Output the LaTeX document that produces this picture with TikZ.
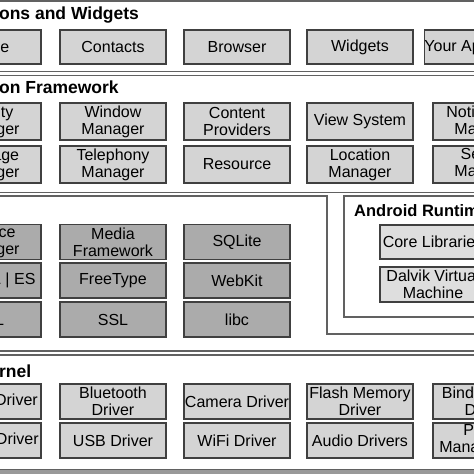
\documentclass[tikz,border=0pt]{standalone}
\usepackage{fontspec}
\setmainfont{Liberation Sans}
\begin{document}
\begin{tikzpicture}[x=1pt,y=-1pt,
    blk/.style={draw=black!75,line width=1.2pt,fill=black!17,minimum width=106pt,minimum height=35pt,inner sep=0pt,align=center,font=\fontsize{16}{17}\selectfont},
    libblk/.style={blk,fill=black!33},
    layer/.style={draw=black!62,line width=1.4pt},
    ltitle/.style={anchor=west,inner sep=0pt,font=\fontsize{17.5}{19}\bfseries\selectfont}]
    \useasboundingbox (0,0) rectangle (474,474);
    \clip (0,0) rectangle (474,474);
    % applications
    \draw[layer] (-80,1) rectangle (552,71.5);
    \node[ltitle] (tapp) at (-75,15) {Applications and Widgets};
    \node[blk,minimum height=34pt] (home) at (-12,47) {Home};
    \node[blk,minimum height=34pt] (contacts) at (113,47) {Contacts};
    \node[blk,minimum height=34pt] (browser) at (237,47) {Browser};
    \node[blk,minimum height=34pt] (widgets) at (360,47) {Widgets};
    \node[blk,minimum height=34pt] (yourapps) at (486,47) {Your Applications};
    % framework
    \draw[layer] (-80,75.5) rectangle (552,192.5);
    \node[ltitle] (tfw) at (-75,89) {Application Framework};
    \node[blk,minimum height=37pt] (actmgr) at (-12,121.5) {Activity\\Manager};
    \node[blk,minimum height=37pt] (winmgr) at (113,121.5) {Window\\Manager};
    \node[blk,minimum height=37pt] (contprov) at (237,121.5) {Content\\Providers};
    \node[blk,minimum height=37pt] (viewsys) at (360,121.5) {View System};
    \node[blk,minimum height=37pt] (notifmgr) at (486,121.5) {Notification\\Manager};
    \node[blk,minimum height=37pt] (pkgmgr) at (-12,164.5) {Package\\Manager};
    \node[blk,minimum height=37pt] (telmgr) at (113,164.5) {Telephony\\Manager};
    \node[blk,minimum height=37pt] (resource) at (237,164.5) {Resource};
    \node[blk,minimum height=37pt] (locmgr) at (360,164.5) {Location\\Manager};
    \node[blk,minimum height=37pt] (sensmgr) at (486,164.5) {Sensor\\Manager};
    % libraries
    \draw[layer] (-80,196) -- (327,196) -- (327,334) -- (552,334) -- (552,351) -- (-80,351) -- cycle;
    \node[ltitle,anchor=east] (tlib) at (-2,211) {Libraries};
    \node[libblk] (surfmgr) at (-12,242) {Surface\\Manager};
    \node[libblk] (mediafw) at (113,242) {Media\\Framework};
    \node[libblk] (sqlite) at (237,242) {SQLite};
    \node[libblk] (opengl) at (-12,280.5) {OpenGL | ES};
    \node[libblk] (freetype) at (113,280.5) {FreeType};
    \node[libblk] (webkit) at (237,280.5) {WebKit};
    \node[libblk] (sgl) at (-12,319.5) {SGL};
    \node[libblk] (ssl) at (113,319.5) {SSL};
    \node[libblk] (libc) at (237,319.5) {libc};
    % runtime
    \draw[layer] (344,196) rectangle (545,317);
    \node[ltitle,font=\fontsize{16.5}{18}\bfseries\selectfont] (trt) at (354,211) {Android Runtime};
    \node[blk,fill=black!13,minimum height=34pt] (corelib) at (433,242) {Core Libraries};
    \node[blk,fill=black!13,minimum height=35pt] (dalvik) at (433,284.5) {Dalvik Virtual\\Machine};
    % kernel
    \draw[layer] (-80,355) rectangle (552,470);
    \fill[black!40] (-80,470) rectangle (552,474);
    \node[ltitle] (tkern) at (-75,371) {Linux Kernel};
    \node[blk] (display) at (-12,401.5) {Display Driver};
    \node[blk] (bluetooth) at (113,401.5) {Bluetooth\\Driver};
    \node[blk] (camera) at (237,401.5) {Camera Driver};
    \node[blk] (flash) at (360,401.5) {Flash Memory\\Driver};
    \node[blk] (binder) at (486,401.5) {Binder (IPC)\\Driver};
    \node[blk] (keypad) at (-12,440.5) {Keypad Driver};
    \node[blk] (usb) at (113,440.5) {USB Driver};
    \node[blk] (wifi) at (237,440.5) {WiFi Driver};
    \node[blk] (audio) at (360,440.5) {Audio Drivers};
    \node[blk] (power) at (486,440.5) {Power\\Management};
\end{tikzpicture}
\end{document}
